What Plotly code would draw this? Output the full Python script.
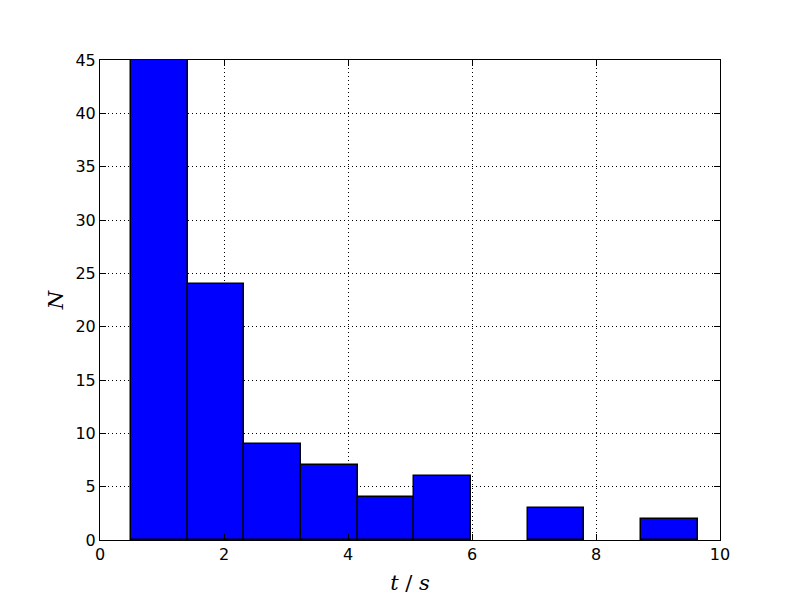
import plotly.graph_objects as go

bin_edges = [0.5, 1.414, 2.328, 3.242, 4.156, 5.07, 5.984, 6.898, 7.812, 8.726, 9.64]
counts = [45, 24, 9, 7, 4, 6, 0, 3, 0, 2]
x_ticks = [0, 2, 4, 6, 8, 10]
y_ticks = [0, 5, 10, 15, 20, 25, 30, 35, 40, 45]

centers = [(a + b) / 2 for a, b in zip(bin_edges[:-1], bin_edges[1:])]
widths = [b - a for a, b in zip(bin_edges[:-1], bin_edges[1:])]
edge_widths = [1.5 if c > 0 else 0 for c in counts]

fig = go.Figure(go.Bar(
    x=centers, y=counts, width=widths,
    marker=dict(color="#0000ff", line=dict(color="black", width=edge_widths)),
))

axis_common = dict(
    showline=True, linecolor="black", linewidth=1, mirror="allticks",
    ticks="inside", ticklen=6, tickcolor="black", tickwidth=1,
    showgrid=True, gridcolor="black", griddash="1px,3px", gridwidth=1,
    zeroline=False,
    tickfont=dict(family="DejaVu Sans", size=16, color="black"),
)

fig.update_layout(
    width=800, height=600,
    margin=dict(l=92, r=88, t=52, b=68),
    paper_bgcolor="white", plot_bgcolor="white",
    showlegend=False, bargap=0,
    xaxis=dict(range=[0, 10], tickvals=x_ticks,
               title=dict(text="<i>t</i> / <i>s</i>", font=dict(family="DejaVu Serif", size=21, color="black"), standoff=12),
               **axis_common),
    yaxis=dict(range=[0, 45], tickvals=y_ticks,
               title=dict(text="<i>N</i>", font=dict(family="DejaVu Serif", size=21, color="black"), standoff=6),
               **axis_common),
)

fig.write_html("out.html")
